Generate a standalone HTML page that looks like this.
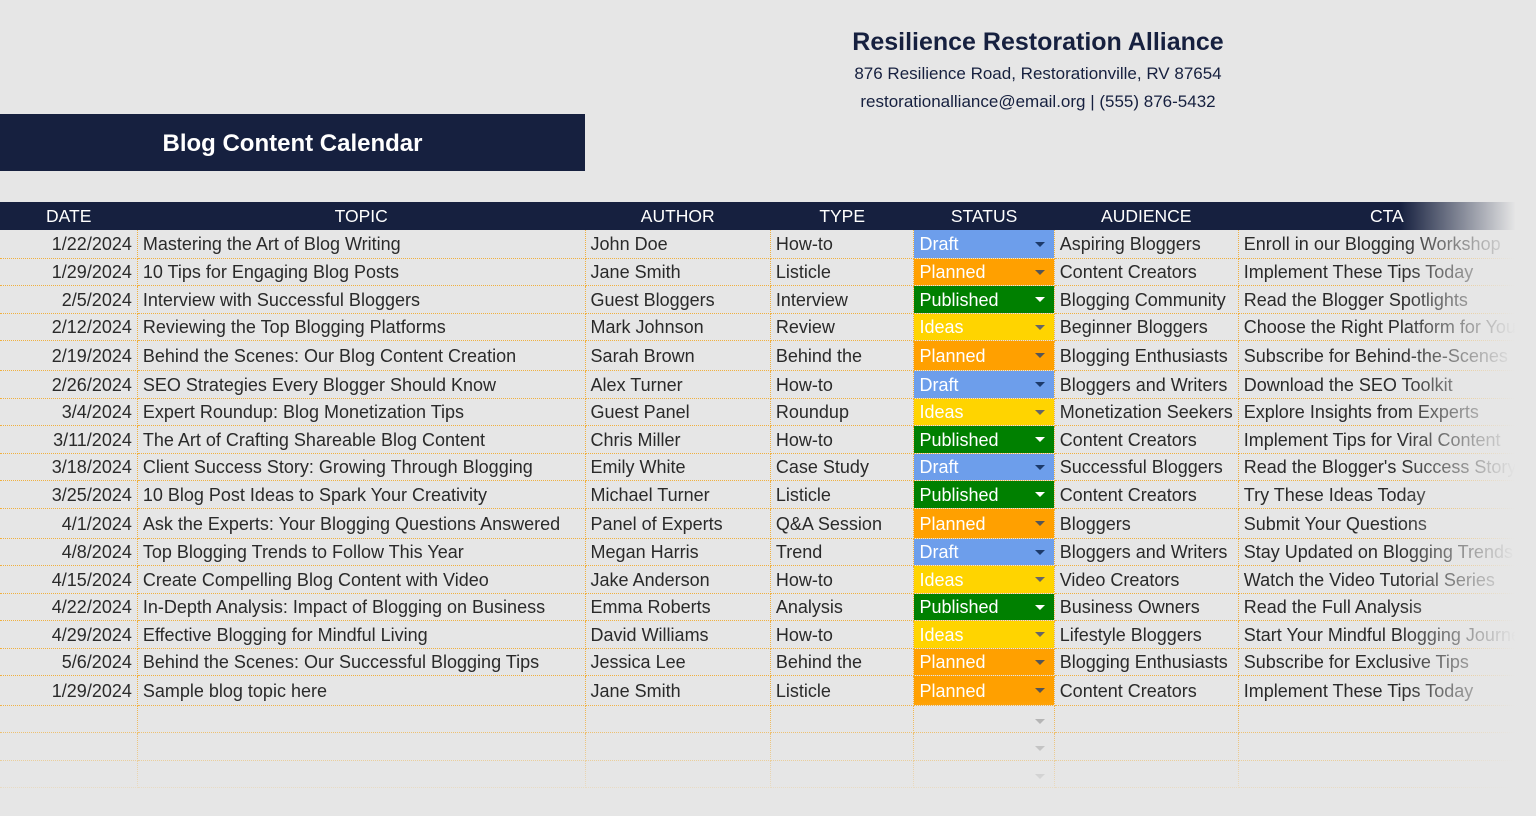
<!DOCTYPE html><html><head><style>
body{margin:0;width:1536px;height:816px;background:#e6e6e6;font-family:"Liberation Sans",sans-serif;position:relative;overflow:hidden;color:#2a2a2a}
.ban{position:absolute;left:0;top:114px;width:585px;height:57px;background:#16203f;color:#fff;font-weight:bold;font-size:24px;line-height:59px;text-align:center}
.co{position:absolute;left:838px;width:400px;text-align:center;color:#16203f}
table{position:absolute;left:0;top:202px;border-collapse:collapse;table-layout:fixed;font-size:18px}
td,th{padding:0 5px;white-space:nowrap;overflow:hidden;border-bottom:1px dotted #f0b040;border-right:1px dotted #f0b040}
td{padding-top:2px}
th{background:#16203f;color:#fff;font-weight:normal;height:28px;border:none;font-size:17.5px}
td.d{text-align:right}
.s{color:#fff;position:relative}
.s:after{content:"";position:absolute;right:9px;top:50%;margin-top:-2px;border-left:5px solid transparent;border-right:5px solid transparent;border-top:5px solid #1c3a6a}
.Draft{background:#6d9eeb}.Planned{background:#ffa000}.Published{background:#008000}.Ideas{background:#ffd400}
.Published:after{border-top-color:#fff}.Planned:after{border-top-color:#555}.Ideas:after{border-top-color:#666}
.e:after{content:"";position:absolute;right:9px;top:50%;border-left:5px solid transparent;border-right:5px solid transparent;border-top:5px solid #aaa}
.e{position:relative}
.fr{position:absolute;left:1400px;top:195px;width:136px;height:621px;background:linear-gradient(to right,rgba(230,230,230,0),#e6e6e6 85%)}
.fb{position:absolute;left:0;top:700px;width:1536px;height:116px;background:linear-gradient(to bottom,rgba(230,230,230,0),#e6e6e6 95%)}
</style></head><body>
<div class="co" style="top:28px;font-size:25px;font-weight:bold">Resilience Restoration Alliance</div>
<div class="co" style="top:64px;font-size:17px">876 Resilience Road, Restorationville, RV 87654</div>
<div class="co" style="top:92px;font-size:17px">restorationalliance@email.org | (555) 876-5432</div>
<div class="ban">Blog Content Calendar</div>
<table>
<colgroup><col style="width:138px"><col style="width:448px"><col style="width:186px"><col style="width:144px"><col style="width:141px"><col style="width:182px"><col style="width:297px"></colgroup>
<tr><th style="text-align:left;padding-left:46px">DATE</th><th>TOPIC</th><th>AUTHOR</th><th>TYPE</th><th>STATUS</th><th>AUDIENCE</th><th>CTA</th></tr>
<tr style="height:28px"><td class="d">1/22/2024</td><td>Mastering the Art of Blog Writing</td><td>John Doe</td><td>How-to</td><td class="s Draft">Draft</td><td>Aspiring Bloggers</td><td>Enroll in our Blogging Workshop</td></tr>
<tr style="height:27px"><td class="d">1/29/2024</td><td>10 Tips for Engaging Blog Posts</td><td>Jane Smith</td><td>Listicle</td><td class="s Planned">Planned</td><td>Content Creators</td><td>Implement These Tips Today</td></tr>
<tr style="height:28px"><td class="d">2/5/2024</td><td>Interview with Successful Bloggers</td><td>Guest Bloggers</td><td>Interview</td><td class="s Published">Published</td><td>Blogging Community</td><td>Read the Blogger Spotlights</td></tr>
<tr style="height:27px"><td class="d">2/12/2024</td><td>Reviewing the Top Blogging Platforms</td><td>Mark Johnson</td><td>Review</td><td class="s Ideas">Ideas</td><td>Beginner Bloggers</td><td>Choose the Right Platform for You</td></tr>
<tr style="height:30px"><td class="d">2/19/2024</td><td>Behind the Scenes: Our Blog Content Creation</td><td>Sarah Brown</td><td>Behind the</td><td class="s Planned">Planned</td><td>Blogging Enthusiasts</td><td>Subscribe for Behind-the-Scenes</td></tr>
<tr style="height:28px"><td class="d">2/26/2024</td><td>SEO Strategies Every Blogger Should Know</td><td>Alex Turner</td><td>How-to</td><td class="s Draft">Draft</td><td>Bloggers and Writers</td><td>Download the SEO Toolkit</td></tr>
<tr style="height:27px"><td class="d">3/4/2024</td><td>Expert Roundup: Blog Monetization Tips</td><td>Guest Panel</td><td>Roundup</td><td class="s Ideas">Ideas</td><td>Monetization Seekers</td><td>Explore Insights from Experts</td></tr>
<tr style="height:28px"><td class="d">3/11/2024</td><td>The Art of Crafting Shareable Blog Content</td><td>Chris Miller</td><td>How-to</td><td class="s Published">Published</td><td>Content Creators</td><td>Implement Tips for Viral Content</td></tr>
<tr style="height:27px"><td class="d">3/18/2024</td><td>Client Success Story: Growing Through Blogging</td><td>Emily White</td><td>Case Study</td><td class="s Draft">Draft</td><td>Successful Bloggers</td><td>Read the Blogger's Success Story</td></tr>
<tr style="height:28px"><td class="d">3/25/2024</td><td>10 Blog Post Ideas to Spark Your Creativity</td><td>Michael Turner</td><td>Listicle</td><td class="s Published">Published</td><td>Content Creators</td><td>Try These Ideas Today</td></tr>
<tr style="height:30px"><td class="d">4/1/2024</td><td>Ask the Experts: Your Blogging Questions Answered</td><td>Panel of Experts</td><td>Q&amp;A Session</td><td class="s Planned">Planned</td><td>Bloggers</td><td>Submit Your Questions</td></tr>
<tr style="height:27px"><td class="d">4/8/2024</td><td>Top Blogging Trends to Follow This Year</td><td>Megan Harris</td><td>Trend</td><td class="s Draft">Draft</td><td>Bloggers and Writers</td><td>Stay Updated on Blogging Trends</td></tr>
<tr style="height:28px"><td class="d">4/15/2024</td><td>Create Compelling Blog Content with Video</td><td>Jake Anderson</td><td>How-to</td><td class="s Ideas">Ideas</td><td>Video Creators</td><td>Watch the Video Tutorial Series</td></tr>
<tr style="height:27px"><td class="d">4/22/2024</td><td>In-Depth Analysis: Impact of Blogging on Business</td><td>Emma Roberts</td><td>Analysis</td><td class="s Published">Published</td><td>Business Owners</td><td>Read the Full Analysis</td></tr>
<tr style="height:28px"><td class="d">4/29/2024</td><td>Effective Blogging for Mindful Living</td><td>David Williams</td><td>How-to</td><td class="s Ideas">Ideas</td><td>Lifestyle Bloggers</td><td>Start Your Mindful Blogging Journey</td></tr>
<tr style="height:27px"><td class="d">5/6/2024</td><td>Behind the Scenes: Our Successful Blogging Tips</td><td>Jessica Lee</td><td>Behind the</td><td class="s Planned">Planned</td><td>Blogging Enthusiasts</td><td>Subscribe for Exclusive Tips</td></tr>
<tr style="height:30px"><td class="d">1/29/2024</td><td>Sample blog topic here</td><td>Jane Smith</td><td>Listicle</td><td class="s Planned">Planned</td><td>Content Creators</td><td>Implement These Tips Today</td></tr>
<tr style="height:27px"><td></td><td></td><td></td><td></td><td class="e"></td><td></td><td></td></tr>
<tr style="height:28px"><td></td><td></td><td></td><td></td><td class="e"></td><td></td><td></td></tr>
<tr style="height:27px"><td></td><td></td><td></td><td></td><td class="e"></td><td></td><td></td></tr>
</table>
<div class="fr"></div><div class="fb"></div>
</body></html>
